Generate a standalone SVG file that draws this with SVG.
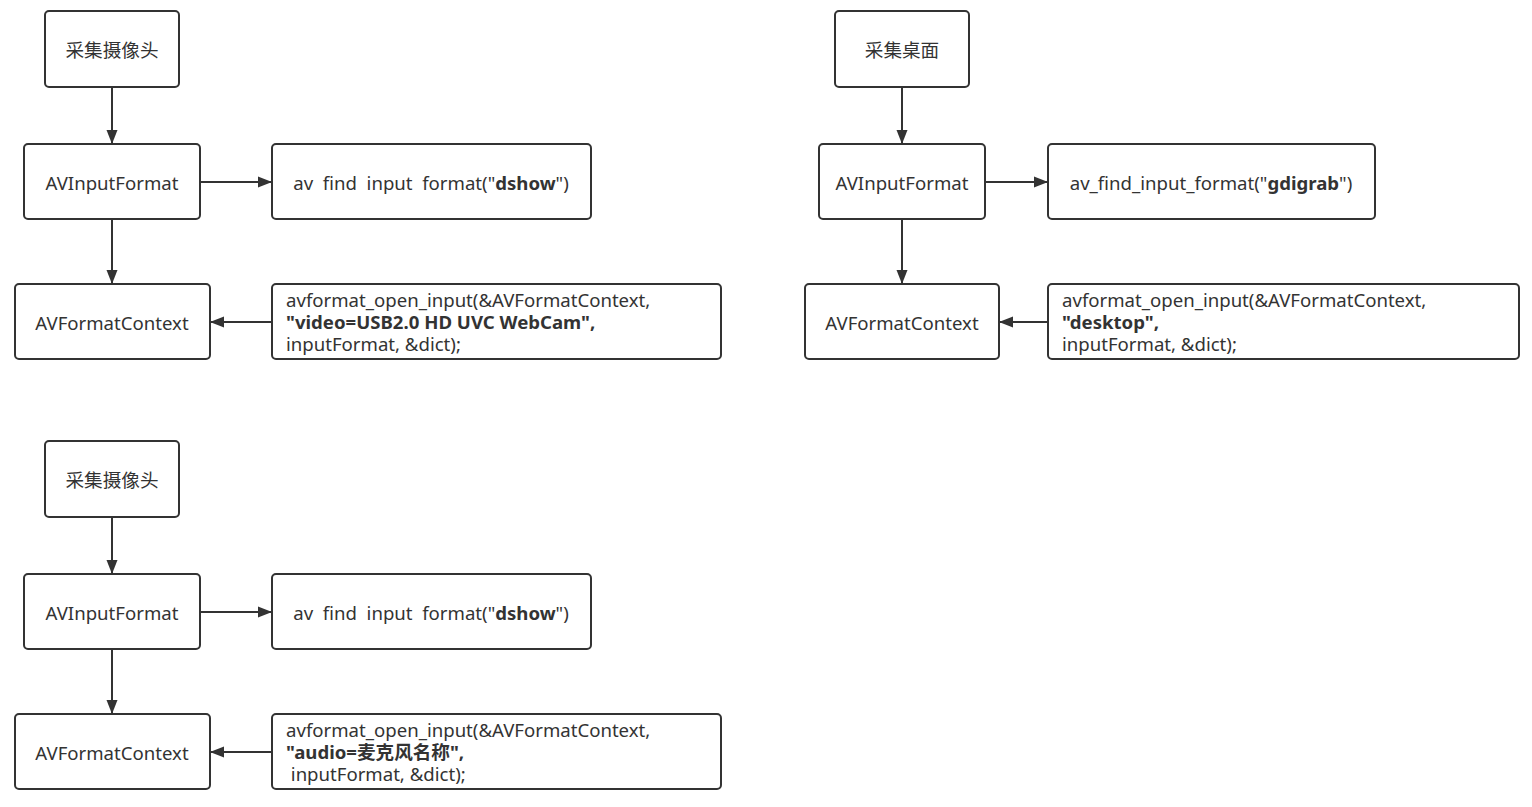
<svg xmlns="http://www.w3.org/2000/svg" width="1532" height="807" viewBox="0 0 1532 807">
<style>
.n{fill:#fff;stroke:#333;stroke-width:2}
.t{font-family:"Noto Sans","Noto Sans CJK SC",sans-serif;font-size:18.6px;fill:#333}
.c{text-anchor:middle;dominant-baseline:central}
.b{font-weight:bold}
.e{fill:none;stroke:#333;stroke-width:2}
</style>
<defs>
<marker id="a" markerWidth="14" markerHeight="12" refX="13" refY="6" orient="auto" markerUnits="userSpaceOnUse">
<path d="M0,0.5 L14,6 L0,11.5 Z" fill="#333"/>
</marker>
</defs>
<rect width="1532" height="807" fill="#fff"/>
<g id="connectors">
<path class="e" d="M112,88 V143" marker-end="url(#a)"/>
<path class="e" d="M201,182 H271" marker-end="url(#a)"/>
<path class="e" d="M112,220 V283" marker-end="url(#a)"/>
<path class="e" d="M271,322 H211" marker-end="url(#a)"/>
<path class="e" d="M902,88 V143" marker-end="url(#a)"/>
<path class="e" d="M986,182 H1047" marker-end="url(#a)"/>
<path class="e" d="M902,220 V283" marker-end="url(#a)"/>
<path class="e" d="M1047,322 H1000" marker-end="url(#a)"/>
<path class="e" d="M112,518 V573" marker-end="url(#a)"/>
<path class="e" d="M201,612 H271" marker-end="url(#a)"/>
<path class="e" d="M112,650 V713" marker-end="url(#a)"/>
<path class="e" d="M271,752 H211" marker-end="url(#a)"/>
</g>
<g id="n1"><rect class="n" x="45" y="11" width="134" height="76" rx="4"/><text class="t c" x="112" y="49">采集摄像头</text></g>
<g id="n2"><rect class="n" x="24" y="144" width="176" height="75" rx="4"/><text class="t c" x="112" y="182">AVInputFormat</text></g>
<g id="n3"><rect class="n" x="272" y="144" width="319" height="75" rx="4"/><text class="t c" x="431" y="182" xml:space="preserve">av  find  input  format("<tspan class="b">dshow</tspan>")</text></g>
<g id="n4"><rect class="n" x="15" y="284" width="195" height="75" rx="4"/><text class="t c" x="112" y="322">AVFormatContext</text></g>
<g id="n5"><rect class="n" x="272" y="284" width="449" height="75" rx="4"/><text class="t" x="286" y="307">avformat_open_input(&amp;AVFormatContext,<tspan x="286" y="329" class="b">"video=USB2.0 HD UVC WebCam",</tspan><tspan x="286" y="351">inputFormat, &amp;dict);</tspan></text></g>
<g id="n6"><rect class="n" x="835" y="11" width="134" height="76" rx="4"/><text class="t c" x="902" y="49">采集桌面</text></g>
<g id="n7"><rect class="n" x="819" y="144" width="166" height="75" rx="4"/><text class="t c" x="902" y="182">AVInputFormat</text></g>
<g id="n8"><rect class="n" x="1048" y="144" width="327" height="75" rx="4"/><text class="t c" x="1211" y="182">av_find_input_format("<tspan class="b">gdigrab</tspan>")</text></g>
<g id="n9"><rect class="n" x="805" y="284" width="194" height="75" rx="4"/><text class="t c" x="902" y="322">AVFormatContext</text></g>
<g id="n10"><rect class="n" x="1048" y="284" width="471" height="75" rx="4"/><text class="t" x="1062" y="307">avformat_open_input(&amp;AVFormatContext,<tspan x="1062" y="329" class="b">"desktop",</tspan><tspan x="1062" y="351">inputFormat, &amp;dict);</tspan></text></g>
<g id="n11"><rect class="n" x="45" y="441" width="134" height="76" rx="4"/><text class="t c" x="112" y="479">采集摄像头</text></g>
<g id="n12"><rect class="n" x="24" y="574" width="176" height="75" rx="4"/><text class="t c" x="112" y="612">AVInputFormat</text></g>
<g id="n13"><rect class="n" x="272" y="574" width="319" height="75" rx="4"/><text class="t c" x="431" y="612" xml:space="preserve">av  find  input  format("<tspan class="b">dshow</tspan>")</text></g>
<g id="n14"><rect class="n" x="15" y="714" width="195" height="75" rx="4"/><text class="t c" x="112" y="752">AVFormatContext</text></g>
<g id="n15"><rect class="n" x="272" y="714" width="449" height="75" rx="4"/><text class="t" x="286" y="737">avformat_open_input(&amp;AVFormatContext,<tspan x="286" y="759" class="b">"audio=麦克风名称",</tspan><tspan x="286" y="781" xml:space="preserve"> inputFormat, &amp;dict);</tspan></text></g>
</svg>
